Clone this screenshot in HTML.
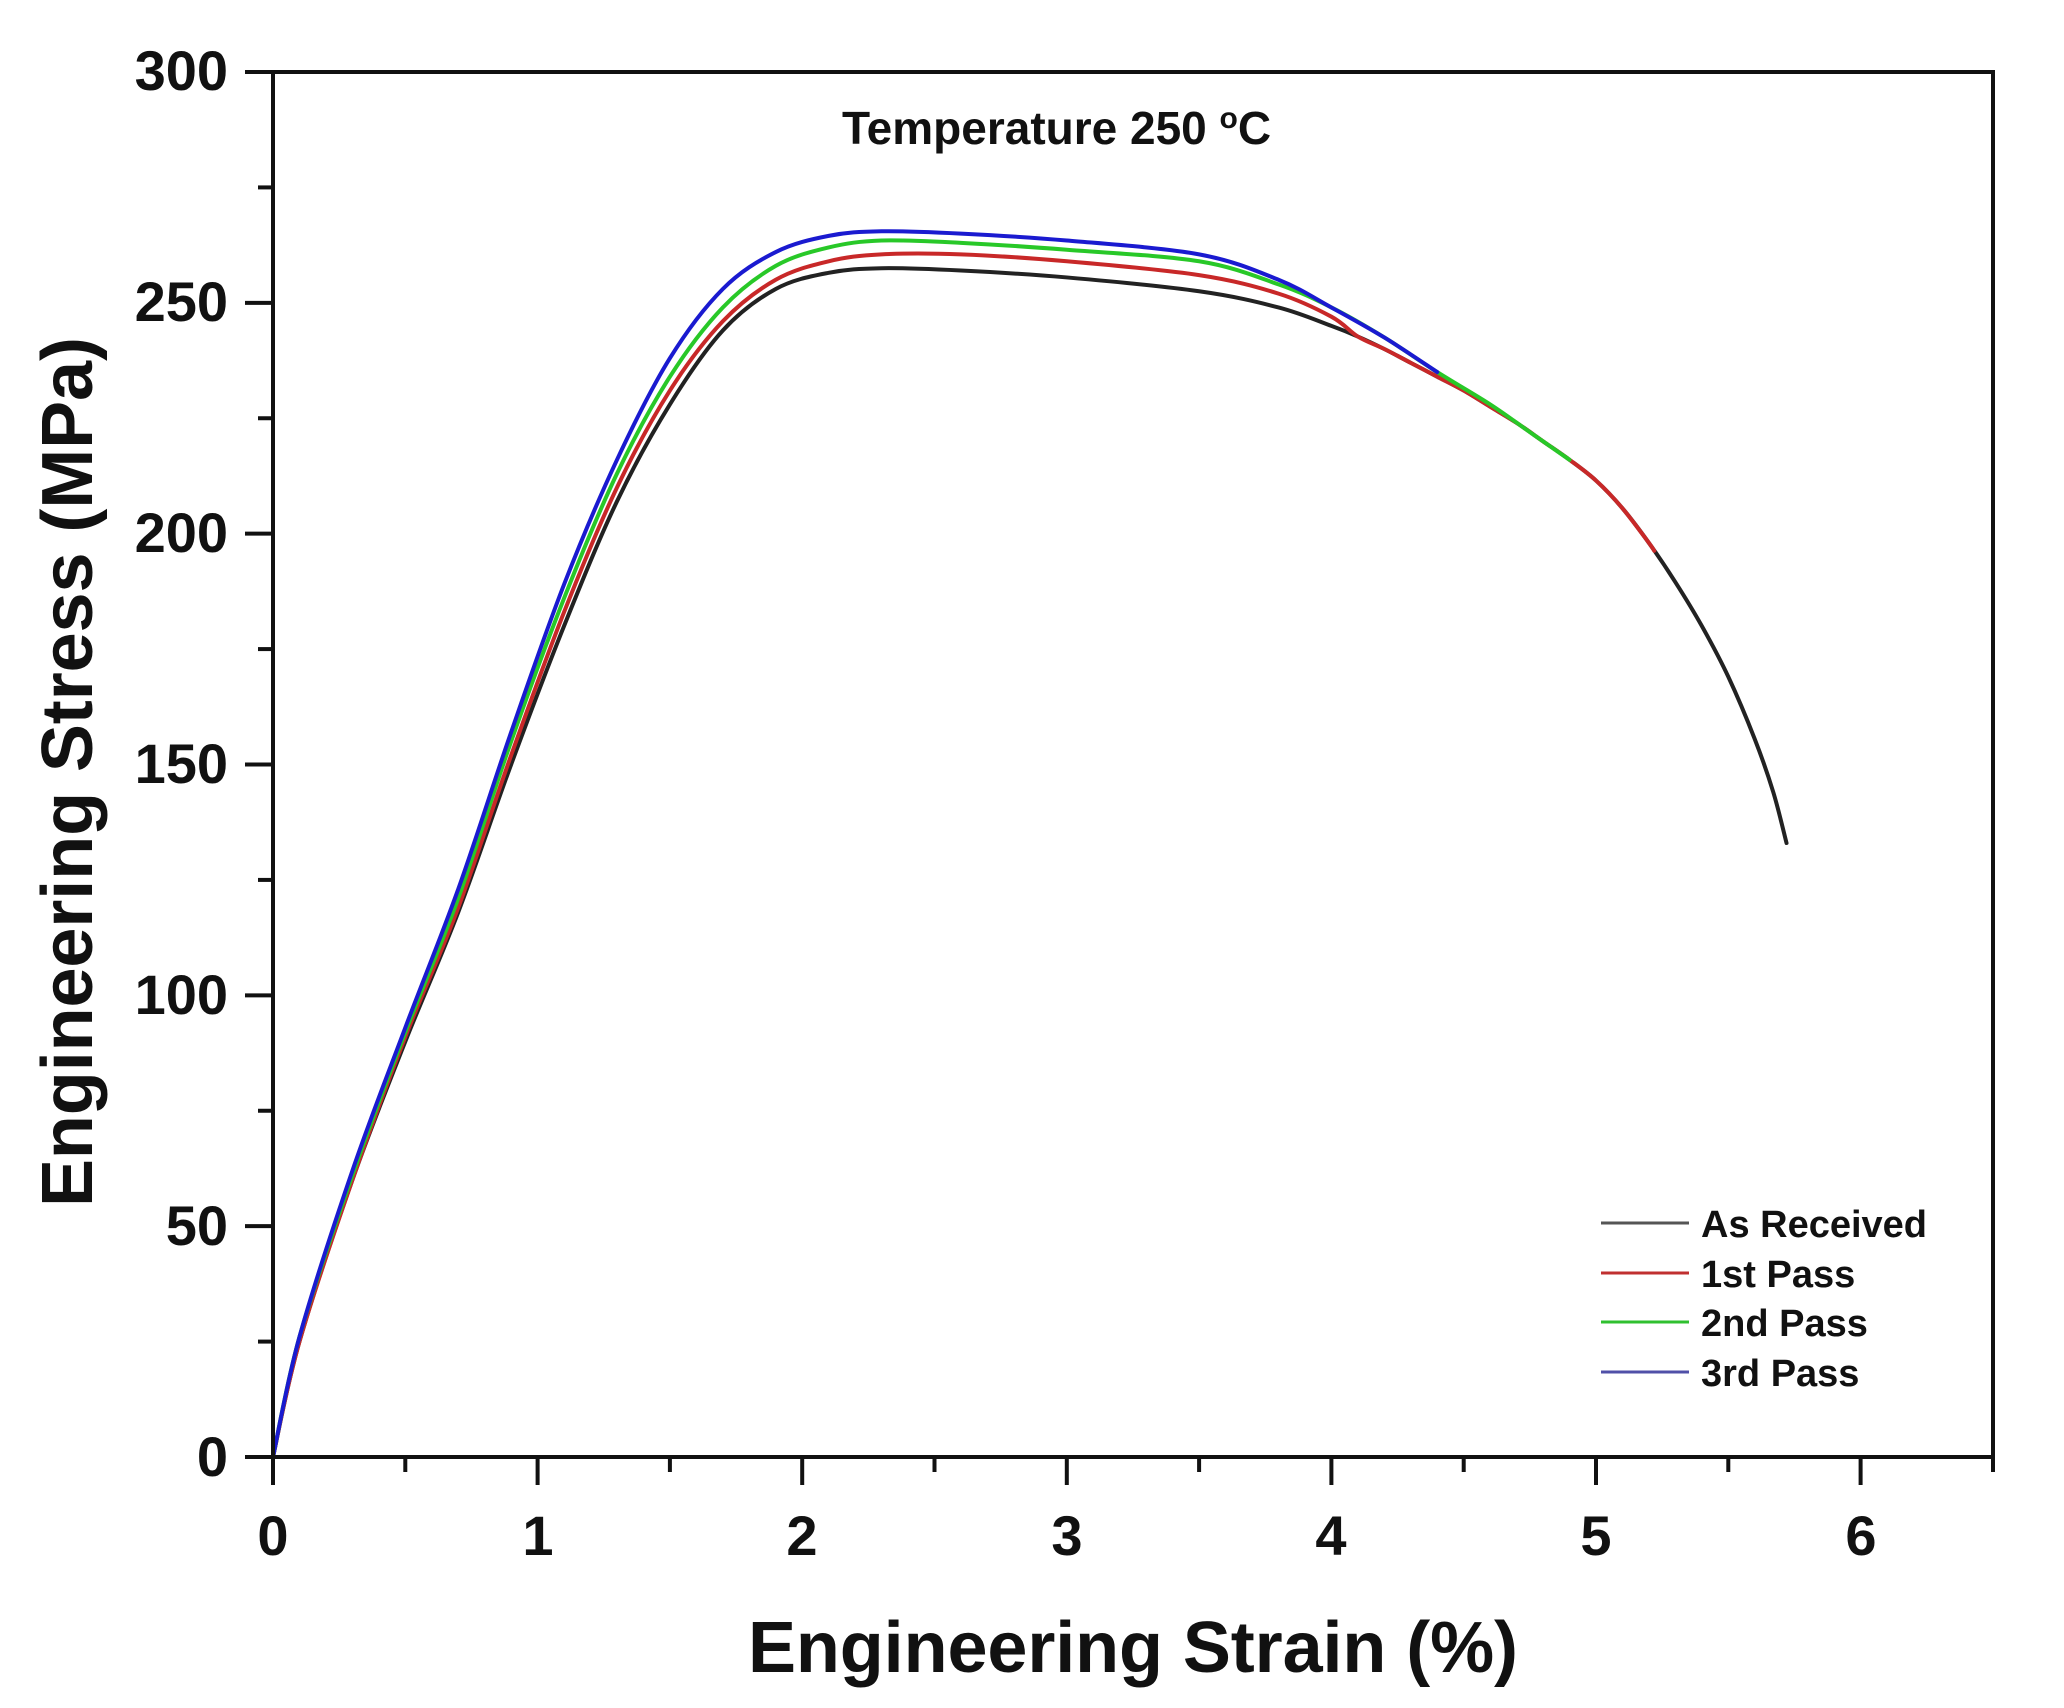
<!DOCTYPE html>
<html><head><meta charset="utf-8"><style>
html,body{margin:0;padding:0;background:#fff;}
svg{display:block;}
text{font-family:"Liberation Sans",Arial,sans-serif;font-weight:bold;fill:#111;}
</style></head><body>
<svg id="c" width="2064" height="1708" viewBox="0 0 2064 1708" xmlns="http://www.w3.org/2000/svg">
<rect width="2064" height="1708" fill="#fff"/>
<g id="ticks" stroke="#111" stroke-width="4"></g>
<g id="curves" fill="none" stroke-width="4" stroke-linejoin="round" stroke-linecap="round"></g>
<rect x="273" y="72" width="1720" height="1385" fill="none" stroke="#111" stroke-width="4"/>
<g font-size="56" text-anchor="end">
<text x="228" y="1476">0</text>
<text x="228" y="1245">50</text>
<text x="228" y="1014">100</text>
<text x="228" y="783">150</text>
<text x="228" y="552">200</text>
<text x="228" y="321">250</text>
<text x="228" y="90">300</text>
</g>
<g font-size="56" text-anchor="middle">
<text x="273" y="1555">0</text>
<text x="538" y="1555">1</text>
<text x="802" y="1555">2</text>
<text x="1067" y="1555">3</text>
<text x="1331" y="1555">4</text>
<text x="1596" y="1555">5</text>
<text x="1861" y="1555">6</text>
</g>
<text x="1133" y="1672" font-size="72" text-anchor="middle" textLength="770">Engineering Strain (%)</text>
<text transform="translate(92,772) rotate(-90)" font-size="72" text-anchor="middle" textLength="870">Engineering Stress (MPa)</text>
<text x="842" y="144" font-size="46">Temperature 250 <tspan font-size="30" dy="-16">o</tspan><tspan dy="16">C</tspan></text>
<g stroke-width="3">
<line x1="1601" y1="1223" x2="1689" y2="1223" stroke="#555"/>
<line x1="1601" y1="1273" x2="1689" y2="1273" stroke="#c03030"/>
<line x1="1601" y1="1322" x2="1689" y2="1322" stroke="#30c030"/>
<line x1="1601" y1="1372" x2="1689" y2="1372" stroke="#5050a8"/>
</g>
<g font-size="38">
<text x="1701" y="1237">As Received</text>
<text x="1701" y="1287">1st Pass</text>
<text x="1701" y="1336">2nd Pass</text>
<text x="1701" y="1386">3rd Pass</text>
</g>
</svg>
<script>
var X0=273,SX=264.6,Y0=1457,SY=1385/300;
function px(e){return X0+e*SX}function py(s){return Y0-s*SY}
var t=document.getElementById('ticks'),h='';
for(var i=0;i<=12;i++){var x=px(i*0.5),L=(i%2==0)?28:15;h+='<line x1="'+x+'" y1="1457" x2="'+x+'" y2="'+(1457+L)+'"/>';}
h+='<line x1="1993" y1="1457" x2="1993" y2="1472"/>';
for(var i=0;i<=12;i++){var y=py(i*25),L=(i%2==0)?28:15;h+='<line x1="'+(273-L)+'" y1="'+y+'" x2="273" y2="'+y+'"/>';}
t.innerHTML=h;
var tailR=[[4.1,242.7],[4.2,240],[4.3,237],[4.4,234],[4.5,231],[4.6,227.5],[4.7,224],[4.8,220],[4.9,216],[5.0,211.5],[5.1,205.5],[5.2,198],[5.22,196.3]];
var tailK=[[4.1,242.7],[4.2,240],[4.3,237],[4.4,234],[4.5,231],[4.6,227.5],[4.7,224],[4.8,220],[4.9,216],[5.0,211.5],[5.1,205.5],[5.2,198],[5.3,189.5],[5.4,180],[5.5,169],[5.6,155.5],[5.67,144],[5.72,133]];
var D={
k:[[0,0],[0.1,25],[0.3,60],[0.5,90],[0.7,118],[0.9,150],[1.1,180],[1.3,207],[1.5,228],[1.7,244],[1.9,253],[2.1,256.5],[2.3,257.5],[2.6,257],[3,255.5],[3.5,252.5],[3.8,249],[4.0,245]].concat(tailK),
r:[[0,0],[0.1,25],[0.3,60],[0.5,91],[0.7,119],[0.9,152],[1.1,183],[1.3,210],[1.5,231],[1.7,246],[1.9,255],[2.1,259],[2.3,260.5],[2.6,260.5],[3,259],[3.5,256],[3.8,252],[4.0,247]].concat(tailR),
g:[[0,0],[0.1,26],[0.3,61],[0.5,92],[0.7,121],[0.9,155],[1.1,186],[1.3,213],[1.5,234],[1.7,249],[1.9,258],[2.1,262],[2.3,263.5],[2.6,263],[3,261.5],[3.5,259],[3.8,254],[4.0,249],[4.2,242.5],[4.4,235],[4.6,228],[4.75,222],[4.9,216]],
b:[[0,0],[0.1,26],[0.3,62],[0.5,93],[0.7,123],[0.9,157],[1.1,189],[1.3,216],[1.5,238],[1.7,253],[1.9,261],[2.1,264.5],[2.3,265.5],[2.6,265],[3,263.5],[3.5,260.5],[3.8,255],[4.0,249],[4.2,242.5],[4.4,235]]};
var col={k:'#222',r:'#c82828',g:'#28c828',b:'#1a1ad0'};
function path(a){var p=a.map(function(q){return[px(q[0]),py(q[1])]});var d='M'+p[0][0]+','+p[0][1];
for(var i=0;i<p.length-1;i++){var p0=p[i-1]||p[i],p1=p[i],p2=p[i+1],p3=p[i+2]||p2;
d+='C'+(p1[0]+(p2[0]-p0[0])/6)+','+(p1[1]+(p2[1]-p0[1])/6)+' '+(p2[0]-(p3[0]-p1[0])/6)+','+(p2[1]-(p3[1]-p1[1])/6)+' '+p2[0]+','+p2[1];}return d;}
var c='';['k','r','g','b'].forEach(function(k){c+='<path d="'+path(D[k])+'" stroke="'+col[k]+'"/>';});
document.getElementById('curves').innerHTML=c;
</script>
</body></html>
